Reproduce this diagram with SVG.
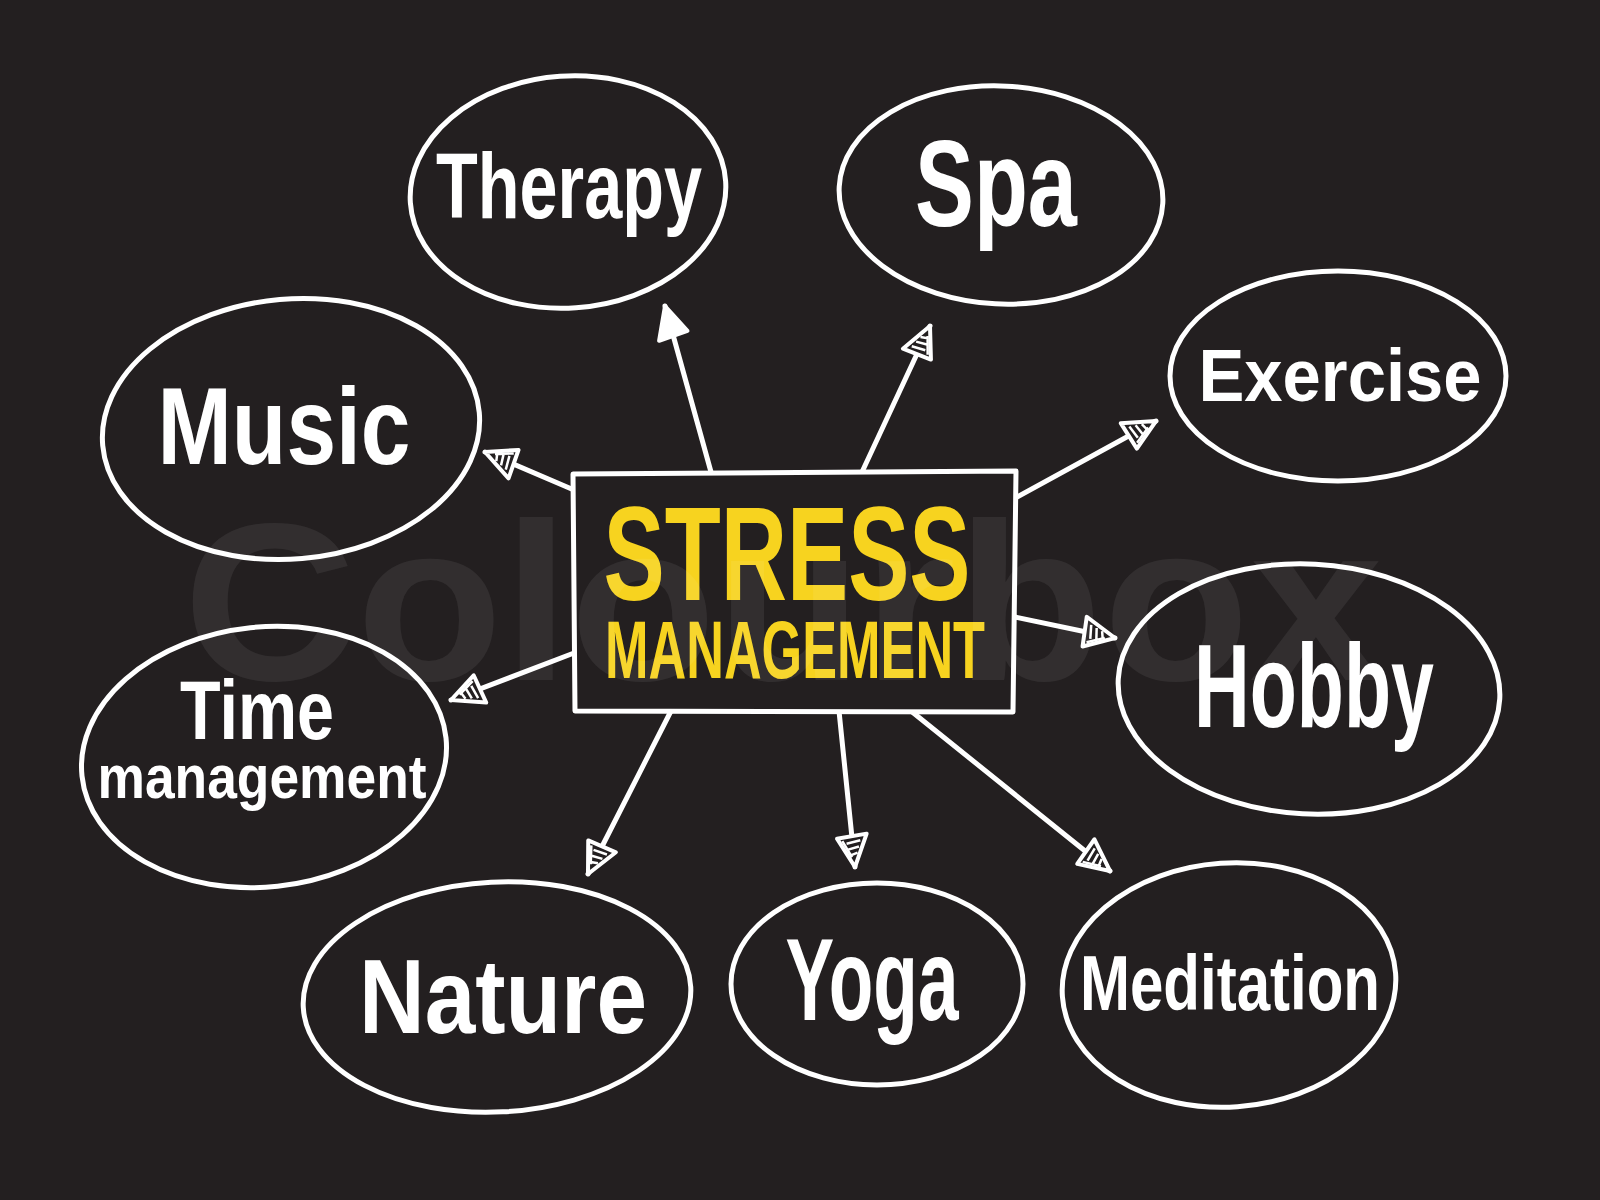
<svg xmlns="http://www.w3.org/2000/svg" width="1600" height="1200" viewBox="0 0 1600 1200">
  <style>
    .bubble { fill: none; stroke: #ffffff; stroke-width: 5; }
    .lbl { fill: #ffffff; font-family: "Liberation Sans", Arial, sans-serif; font-weight: bold; text-anchor: middle; }
    .title { fill: #f7d31f; font-family: "Liberation Sans", Arial, sans-serif; font-weight: bold; text-anchor: middle; }
    .conn { stroke: #ffffff; stroke-width: 5; fill: none; stroke-linecap: round; }
    .wm { fill: #ffffff; fill-opacity: 0.07; font-family: "Liberation Sans", Arial, sans-serif; font-weight: bold; text-anchor: middle; }
  </style>
  <defs>
    <marker id="hatch" markerUnits="userSpaceOnUse" viewBox="-45 -22 50 44" markerWidth="50" markerHeight="44" refX="0" refY="0" orient="auto">
      <path d="M0,0 L-32,-15 L-30,15 Z" fill="#231f20" stroke="#ffffff" stroke-width="4" stroke-linejoin="round"/>
      <path d="M-26,-8 L-24,6 M-20,-6 L-18,5 M-14,-4 L-12,3 M-27,10 L-10,2" stroke="#ffffff" stroke-width="2.5" fill="none"/>
    </marker>
    <marker id="solid" markerUnits="userSpaceOnUse" viewBox="-45 -22 50 44" markerWidth="50" markerHeight="44" refX="0" refY="0" orient="auto">
      <path d="M0,0 L-32,-15 L-30,15 Z" fill="#ffffff" stroke="#ffffff" stroke-width="4" stroke-linejoin="round"/>
    </marker>
  </defs>

  <rect x="0" y="0" width="1600" height="1200" fill="#231f20"/>

  <g id="connectors">
    <line class="conn" x1="711" y1="472" x2="665" y2="306" marker-end="url(#solid)"/>
    <line class="conn" x1="862" y1="472" x2="930" y2="326" marker-end="url(#hatch)"/>
    <line class="conn" x1="1017" y1="497" x2="1156" y2="421" marker-end="url(#hatch)"/>
    <line class="conn" x1="574" y1="490" x2="485" y2="452" marker-end="url(#hatch)"/>
    <line class="conn" x1="1015" y1="617" x2="1115" y2="638" marker-end="url(#hatch)"/>
    <line class="conn" x1="574" y1="653" x2="451" y2="700" marker-end="url(#hatch)"/>
    <line class="conn" x1="671" y1="711" x2="588" y2="874" marker-end="url(#hatch)"/>
    <line class="conn" x1="839" y1="711" x2="855" y2="867" marker-end="url(#hatch)"/>
    <line class="conn" x1="911" y1="711" x2="1110" y2="871" marker-end="url(#hatch)"/>
  </g>

  <g id="center">
    <path d="M573,474 L1016,471 L1013,712 L575,711 Z" fill="#231f20" stroke="#ffffff" stroke-width="5" stroke-linejoin="round"/>
    <text class="title" x="787" y="600" font-size="134" textLength="367" lengthAdjust="spacingAndGlyphs">STRESS</text>
    <text class="title" x="795" y="678" font-size="82" textLength="380" lengthAdjust="spacingAndGlyphs">MANAGEMENT</text>
  </g>

  <g id="therapy">
    <ellipse class="bubble" cx="568" cy="192" rx="158" ry="116" transform="rotate(-4 568 192)"/>
    <text class="lbl" x="569" y="218" font-size="92" textLength="266" lengthAdjust="spacingAndGlyphs">Therapy</text>
  </g>
  <g id="spa">
    <ellipse class="bubble" cx="1001" cy="195" rx="162" ry="109" transform="rotate(3 1001 195)"/>
    <text class="lbl" x="996" y="226" font-size="122" textLength="162" lengthAdjust="spacingAndGlyphs">Spa</text>
  </g>
  <g id="exercise">
    <ellipse class="bubble" cx="1338" cy="376" rx="168" ry="105"/>
    <text class="lbl" x="1340" y="401" font-size="75" textLength="283" lengthAdjust="spacingAndGlyphs">Exercise</text>
  </g>
  <g id="music">
    <ellipse class="bubble" cx="291" cy="429" rx="189" ry="130" transform="rotate(-5 291 429)"/>
    <text class="lbl" x="284" y="464" font-size="110" textLength="253" lengthAdjust="spacingAndGlyphs">Music</text>
  </g>
  <g id="hobby">
    <ellipse class="bubble" cx="1309" cy="689" rx="191" ry="125" transform="rotate(3 1309 689)"/>
    <text class="lbl" x="1314" y="727" font-size="118" textLength="240" lengthAdjust="spacingAndGlyphs">Hobby</text>
  </g>
  <g id="time-management">
    <ellipse class="bubble" cx="264" cy="757" rx="183" ry="130" transform="rotate(-6 264 757)"/>
    <text class="lbl" x="257" y="739" font-size="83" textLength="154" lengthAdjust="spacingAndGlyphs">Time</text>
    <text class="lbl" x="262" y="798" font-size="62" textLength="329" lengthAdjust="spacingAndGlyphs">management</text>
  </g>
  <g id="nature">
    <ellipse class="bubble" cx="497" cy="997" rx="194" ry="115" transform="rotate(-3 497 997)"/>
    <text class="lbl" x="503" y="1033" font-size="105" textLength="288" lengthAdjust="spacingAndGlyphs">Nature</text>
  </g>
  <g id="yoga">
    <ellipse class="bubble" cx="877" cy="984" rx="146" ry="101"/>
    <text class="lbl" x="872" y="1020" font-size="116" textLength="173" lengthAdjust="spacingAndGlyphs">Yoga</text>
  </g>
  <g id="meditation">
    <ellipse class="bubble" cx="1229" cy="985" rx="167" ry="122" transform="rotate(-4 1229 985)"/>
    <text class="lbl" x="1230" y="1010" font-size="78" textLength="300" lengthAdjust="spacingAndGlyphs">Meditation</text>
  </g>

  <text class="wm" x="783" y="680" font-size="225" textLength="1200" lengthAdjust="spacingAndGlyphs">Colourbox</text>
</svg>
